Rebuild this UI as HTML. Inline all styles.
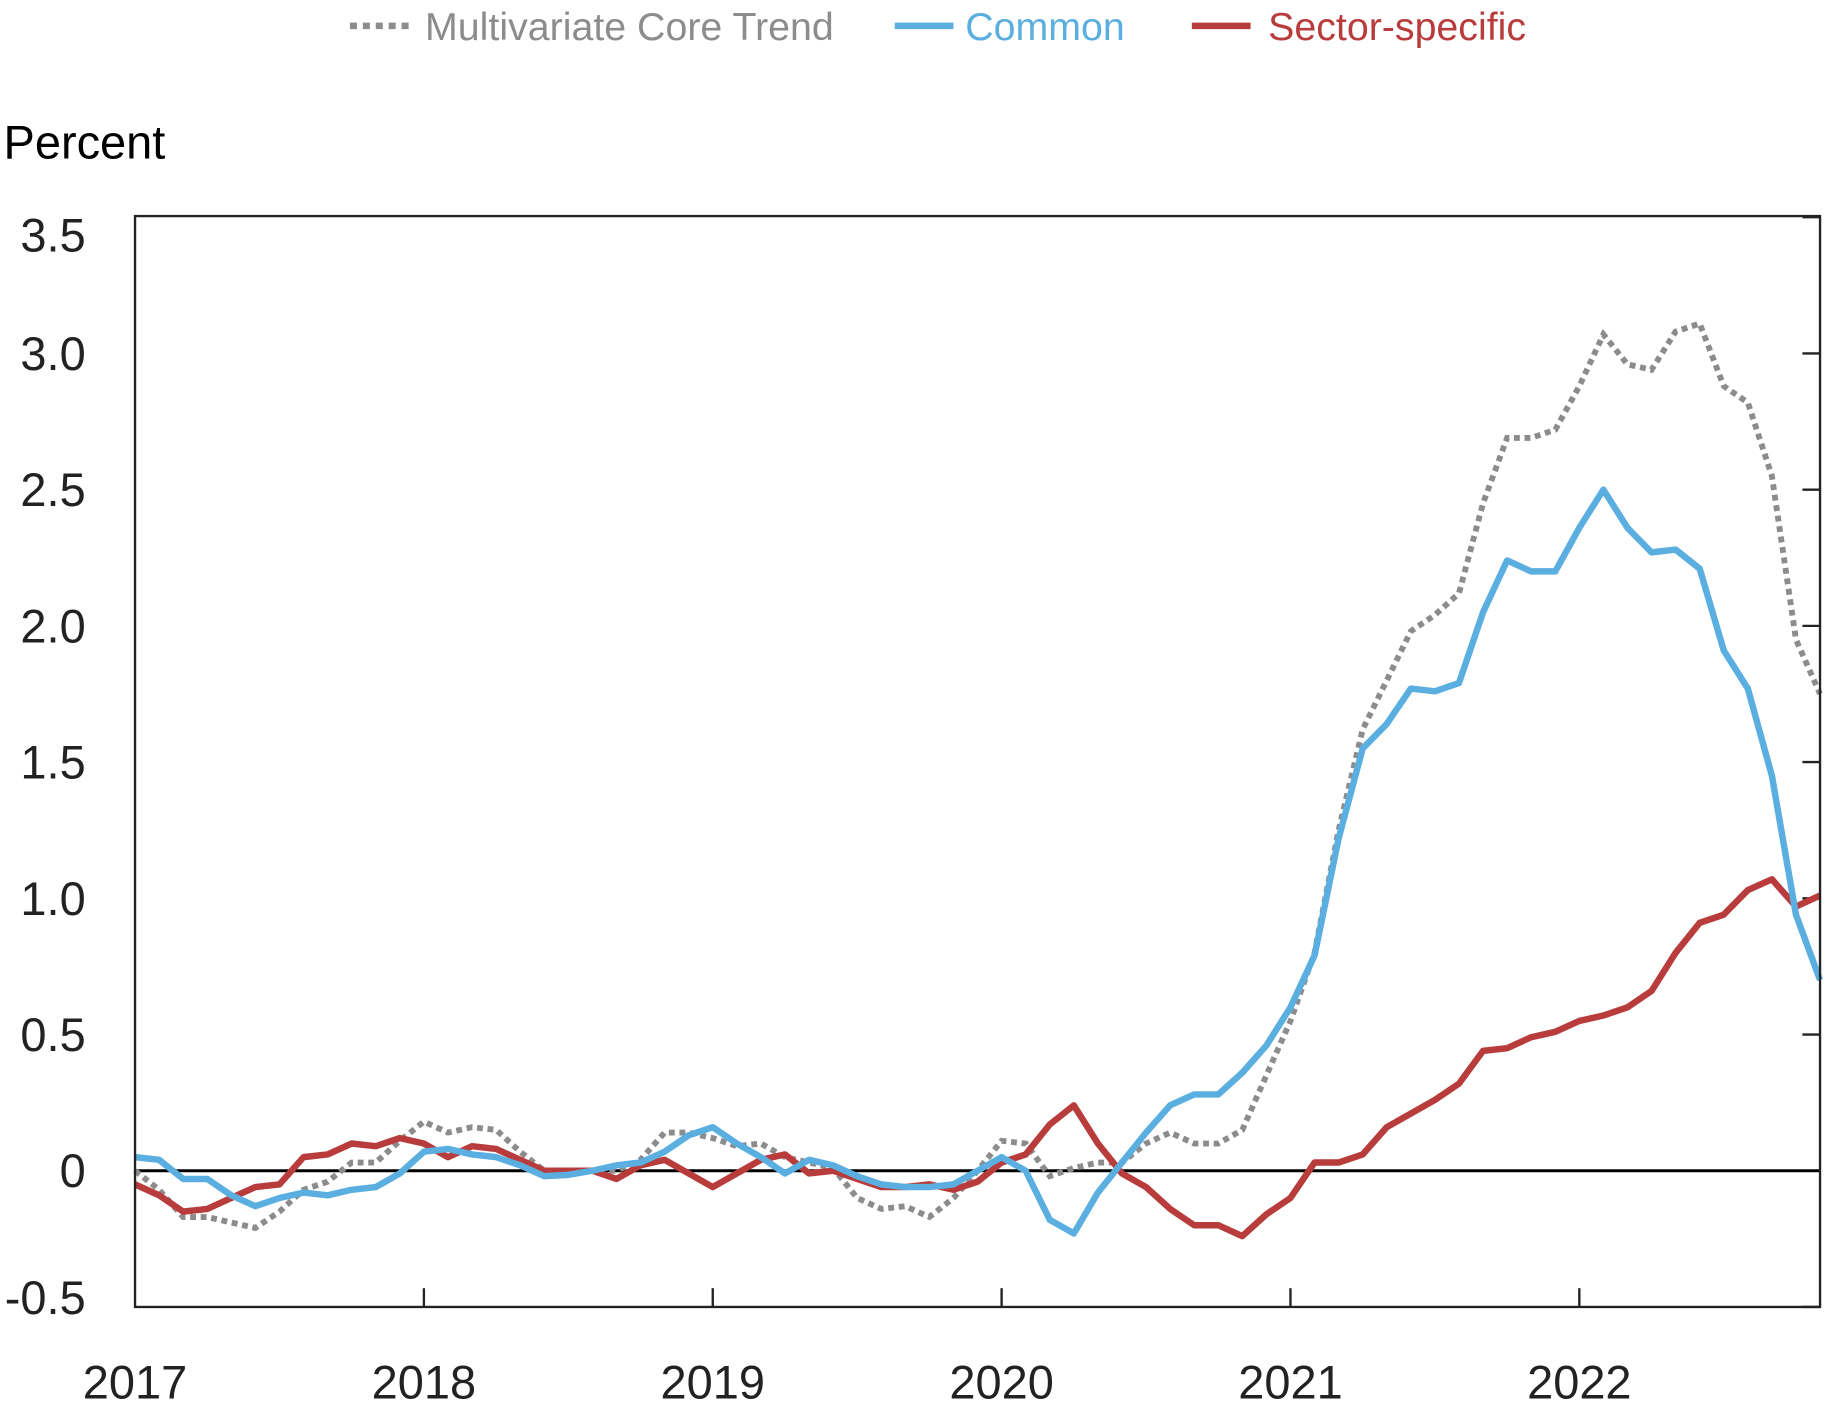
<!DOCTYPE html>
<html><head><meta charset="utf-8"><style>
html,body{margin:0;padding:0;background:#fff;}
svg{display:block;font-family:"Liberation Sans",Arial,sans-serif;}
</style></head><body>
<svg id="c" width="1840" height="1415" viewBox="0 0 1567 1205" preserveAspectRatio="none" xmlns="http://www.w3.org/2000/svg">
<rect width="1567" height="1205" fill="#fff"/>
<line x1="298" y1="22" x2="348" y2="22" stroke="#8c8c8c" stroke-width="5.5" stroke-dasharray="6,5"/>
<text x="362" y="34" font-size="33.5" fill="#8c8c8c">Multivariate Core Trend</text>
<line x1="762" y1="22" x2="812" y2="22" stroke="#5aafe0" stroke-width="5.5"/>
<text x="822" y="34" font-size="33.5" fill="#5aafe0">Common</text>
<line x1="1015" y1="22" x2="1065" y2="22" stroke="#b83c3c" stroke-width="5.5"/>
<text x="1080" y="34" font-size="33.5" fill="#b83c3c">Sector-specific</text>
<text x="3" y="135" font-size="40" fill="#000">Percent</text>
<g id="axes"></g>
<g id="series"></g>
<rect x="115" y="184" width="1435" height="929" fill="none" stroke="#222" stroke-width="2"/>
</svg>
<script>
const NS="http://www.w3.org/2000/svg";
const X0=115,PX=20.5,Y0=997,PY=232;
const ax=document.getElementById('axes');
function el(t,a,p,txt){const e=document.createElementNS(NS,t);for(const k in a)e.setAttribute(k,a[k]);if(txt!==undefined)e.textContent=txt;p.appendChild(e);return e;}
const yl=[[-0.5,"-0.5",-8],[0,"0",0],[0.5,"0.5",0],[1,"1.0",0],[1.5,"1.5",0],[2,"2.0",0],[2.5,"2.5",0],[3,"3.0",0],[3.5,"3.5",15]];
yl.forEach(([v,s,o])=>{const y=Y0-v*PY;
 el('text',{x:73,y:y+14+o,'font-size':40,'text-anchor':'end',fill:'#222'},ax,s);
 el('line',{x1:1535,y1:y,x2:1550,y2:y,stroke:'#222','stroke-width':2},ax);});
for(let i=0;i<6;i++){const x=X0+i*246;
 el('text',{x:x,y:1191,'font-size':40,'text-anchor':'middle',fill:'#222'},ax,String(2017+i));
 if(i>0)el('line',{x1:x,y1:1097,x2:x,y2:1113,stroke:'#222','stroke-width':2},ax);}
el('line',{x1:115,y1:Y0,x2:1550,y2:Y0,stroke:'#000','stroke-width':2.5},ax);
const gray=[.00,-.07,-.17,-.17,-.19,-.21,-.15,-.07,-.04,.03,.03,.11,
.18,.14,.16,.15,.07,.00,-.01,.00,.00,.04,.14,.14,
.12,.09,.10,.05,.03,.01,-.10,-.14,-.13,-.17,-.10,.00,
.11,.10,-.02,.01,.03,.03,.10,.14,.10,.10,.15,.35,
.55,.80,1.25,1.62,1.80,1.98,2.04,2.12,2.45,2.69,2.69,2.72,
2.88,3.07,2.96,2.94,3.08,3.11,2.88,2.82,2.55,1.95,1.75];
const blue=[.05,.04,-.03,-.03,-.09,-.13,-.10,-.08,-.09,-.07,-.06,-.01,
.07,.08,.06,.05,.02,-.02,-.015,.00,.02,.03,.07,.13,
.16,.10,.05,-.01,.04,.02,-.02,-.05,-.06,-.06,-.05,.00,
.05,.00,-.18,-.23,-.08,.03,.14,.24,.28,.28,.36,.46,
.60,.79,1.22,1.55,1.64,1.77,1.76,1.79,2.05,2.24,2.20,2.20,
2.36,2.50,2.36,2.27,2.28,2.21,1.91,1.77,1.45,.94,.70];
const red=[-.05,-.09,-.15,-.14,-.10,-.06,-.05,.05,.06,.10,.09,.12,
.10,.05,.09,.08,.04,.00,.00,.00,-.03,.02,.04,-.01,
-.06,-.01,.04,.06,-.01,.00,-.03,-.06,-.06,-.05,-.07,-.04,
.03,.06,.17,.24,.10,-.01,-.06,-.14,-.20,-.20,-.24,-.16,
-.10,.03,.03,.06,.16,.21,.26,.32,.44,.45,.49,.51,
.55,.57,.60,.66,.80,.91,.94,1.03,1.07,.97,1.01];
const sg=document.getElementById('series');
function pts(d){return d.map((v,i)=>(X0+i*PX).toFixed(1)+","+(Y0-v*PY).toFixed(1)).join(" ");}
el('polyline',{points:pts(gray),fill:'none',stroke:'#8c8c8c','stroke-width':5,'stroke-dasharray':'5,4'},sg);
el('polyline',{points:pts(red),fill:'none',stroke:'#b83c3c','stroke-width':5.5,'stroke-linejoin':'round'},sg);
el('polyline',{points:pts(blue),fill:'none',stroke:'#5aafe0','stroke-width':5.5,'stroke-linejoin':'round'},sg);
</script>
</body></html>
